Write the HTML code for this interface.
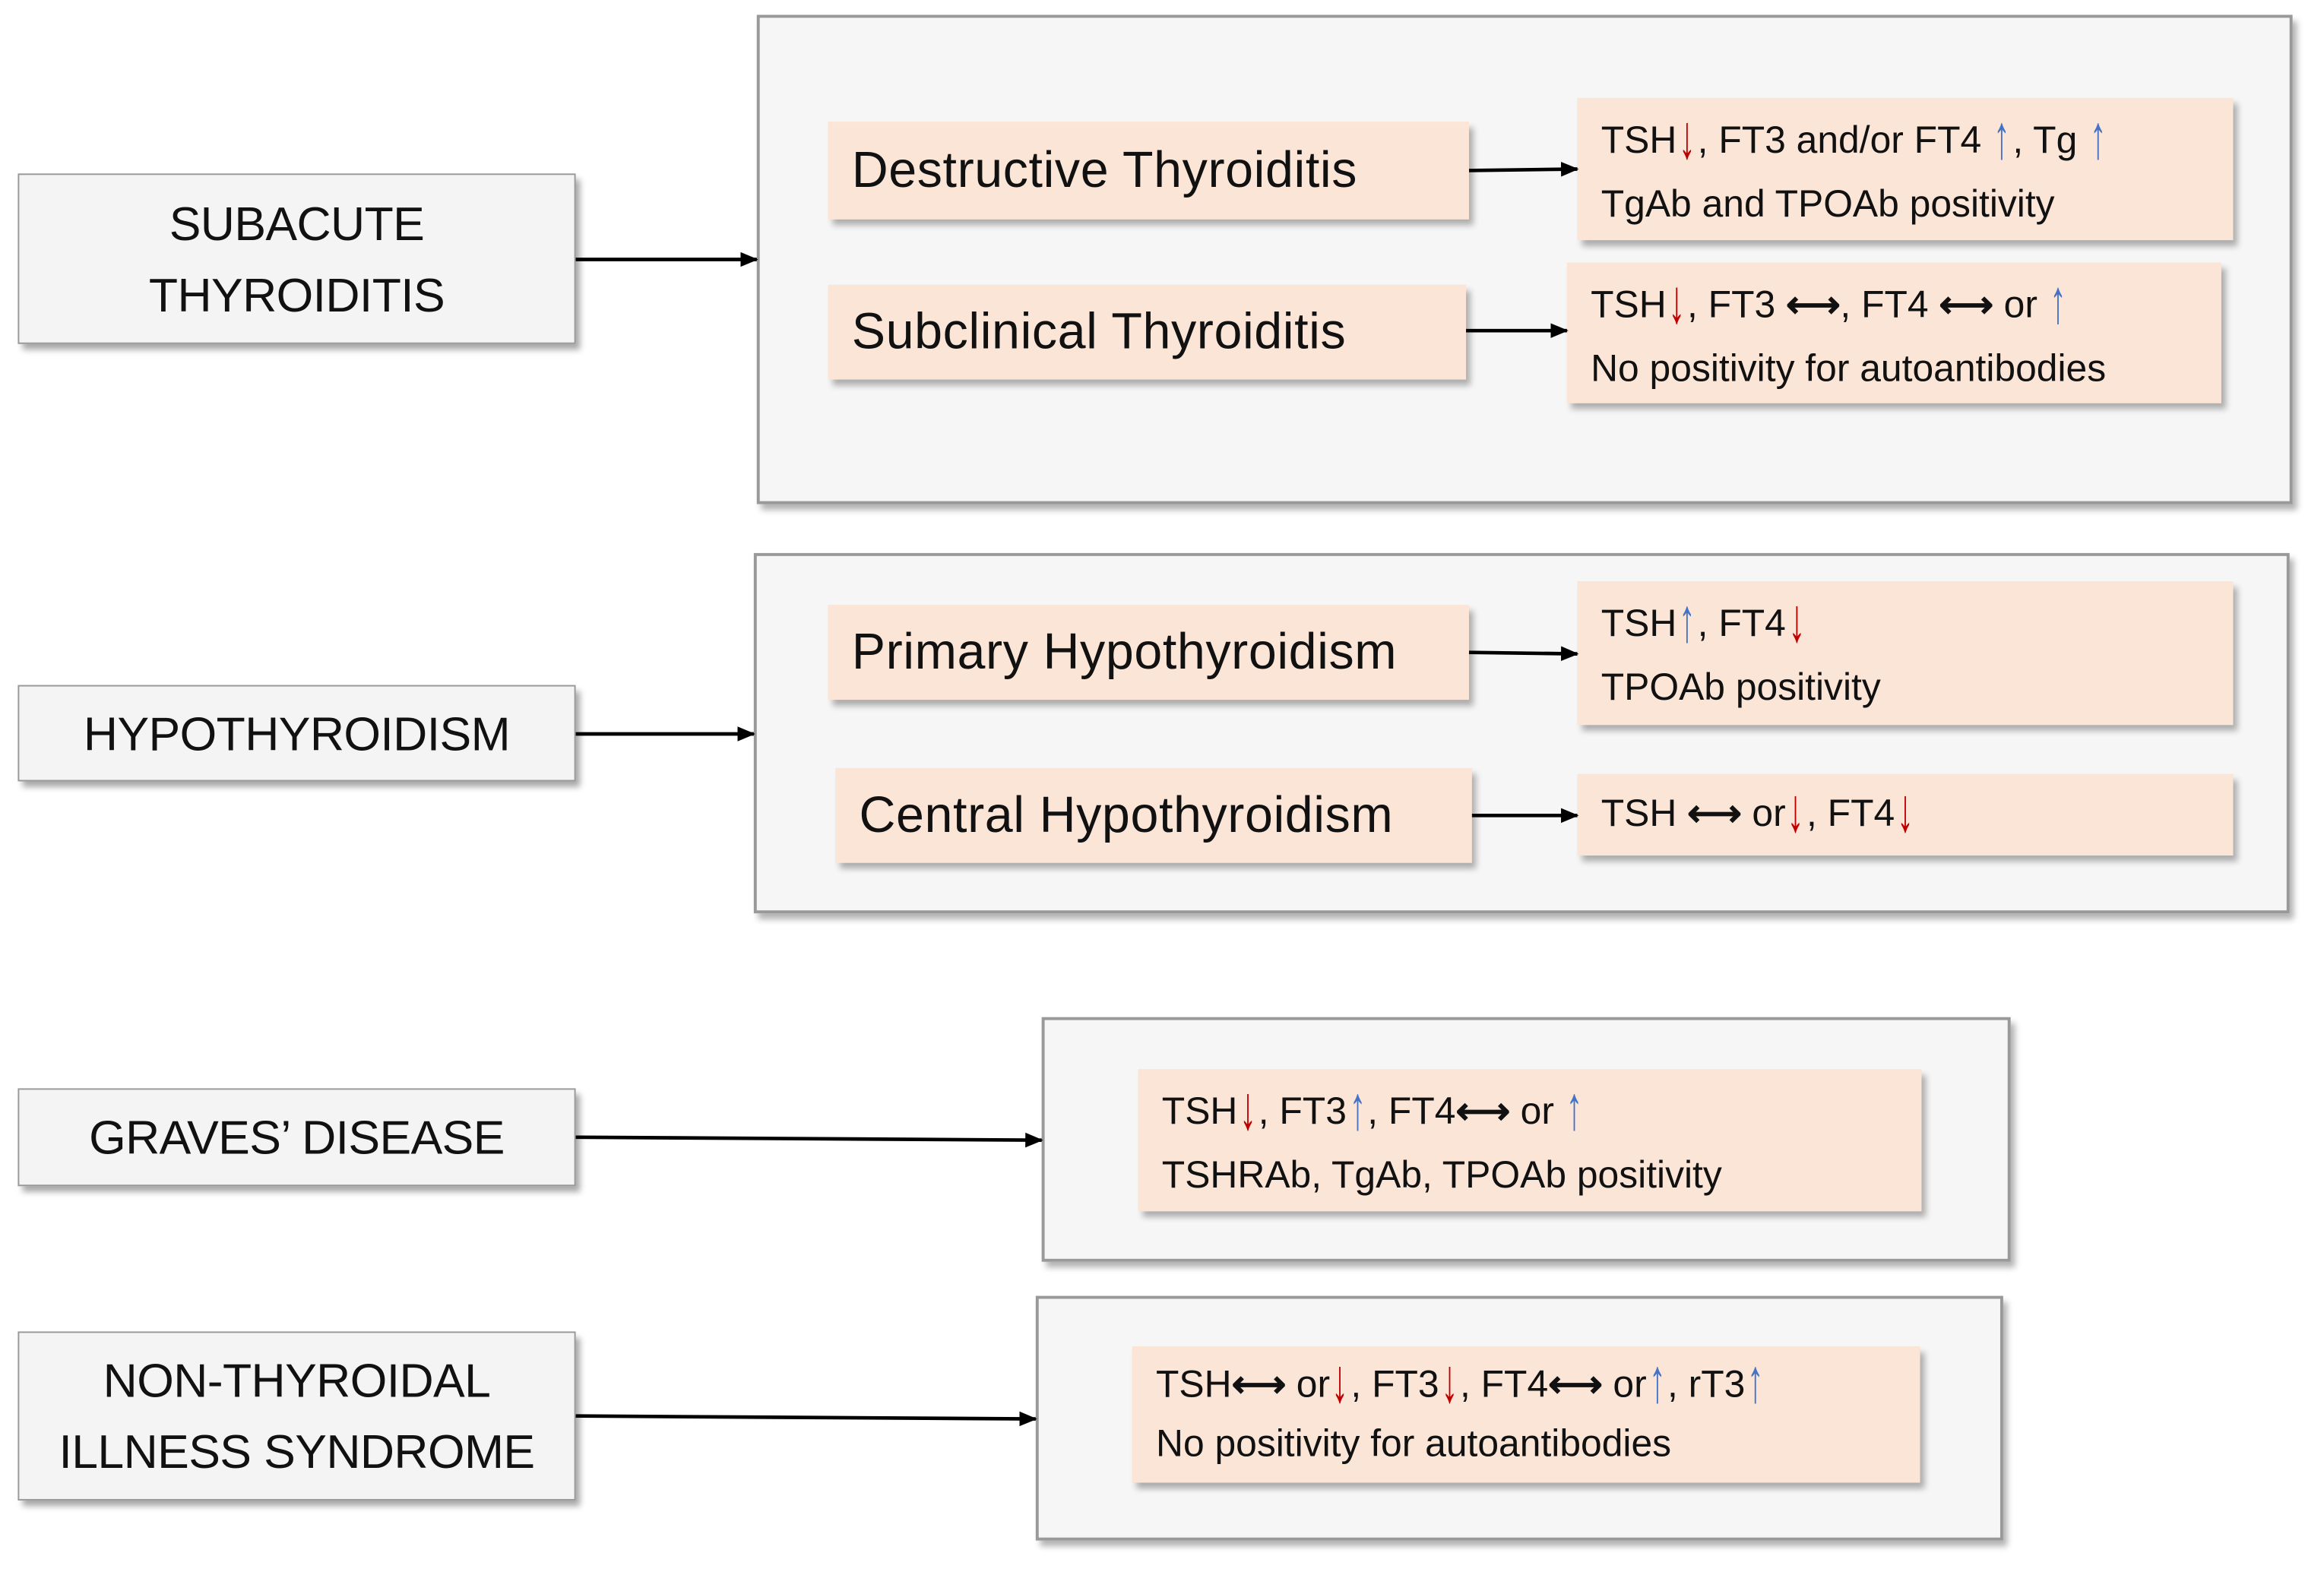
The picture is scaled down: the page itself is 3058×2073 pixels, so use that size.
<!DOCTYPE html>
<html><head><meta charset="utf-8"><style>
html,body{margin:0;padding:0;background:#fff;}
body{width:3058px;height:2073px;overflow:hidden;}
#w{position:absolute;left:0;top:0;width:1560px;height:1058px;transform-origin:0 0;transform:scale(1.9525,1.9515);font-family:"Liberation Sans",sans-serif;color:#111;}
.b{position:absolute;box-sizing:border-box;}
.l{background:#f4f4f4;border:1.5px solid #999;box-shadow:3px 4px 4px rgba(0,0,0,.35);display:flex;align-items:center;justify-content:center;text-align:center;font-size:32px;line-height:48px;letter-spacing:-0.3px;}
.g{background:#f6f6f6;border:2px solid #999;box-shadow:3px 4px 4px rgba(0,0,0,.3);}
.p{background:#fbe5d7;box-shadow:3px 4px 4px rgba(0,0,0,.3);}
.n{display:flex;align-items:center;padding-left:16px;font-size:34px;letter-spacing:0.3px;}
.r{padding:8px 0 0 16px;font-size:25.5px;line-height:43px;letter-spacing:0px;white-space:nowrap;}
.d,.u{display:inline-block;font-size:28px;font-weight:bold;transform:scale(0.8,1.5);transform-origin:50% 60%;line-height:20px;}
.d{color:#c00000;}
.u{color:#4472c4;}
.h{font-weight:bold;}
svg{position:absolute;left:0;top:0;}
</style></head><body><div id="w">
<div class="b l" style="left:12px;top:117px;width:376px;height:115px;">SUBACUTE<br>THYROIDITIS</div>
<div class="b l" style="left:12px;top:462px;width:376px;height:65px;">HYPOTHYROIDISM</div>
<div class="b l" style="left:12px;top:734px;width:376px;height:66px;">GRAVES’ DISEASE</div>
<div class="b l" style="left:12px;top:898px;width:376px;height:114px;">NON-THYROIDAL<br>ILLNESS SYNDROME</div>

<div class="b g" style="left:510px;top:10px;width:1035px;height:330px;"></div>
<div class="b g" style="left:508px;top:373px;width:1035px;height:243px;"></div>
<div class="b g" style="left:702px;top:686px;width:653px;height:165px;"></div>
<div class="b g" style="left:698px;top:874px;width:652px;height:165px;"></div>

<div class="b p n" style="left:558px;top:82px;width:432px;height:66px;">Destructive Thyroiditis</div>
<div class="b p n" style="left:558px;top:192px;width:430px;height:64px;">Subclinical Thyroiditis</div>
<div class="b p n" style="left:558px;top:408px;width:432px;height:64px;">Primary Hypothyroidism</div>
<div class="b p n" style="left:563px;top:518px;width:429px;height:64px;">Central Hypothyroidism</div>

<div class="b p r" style="left:1063px;top:66px;width:442px;height:96px;">TSH<span class="d">↓</span>, FT3 and/or FT4 <span class="u">↑</span>, Tg <span class="u">↑</span><br>TgAb and TPOAb positivity</div>
<div class="b p r" style="left:1056px;top:177px;width:441px;height:95px;">TSH<span class="d">↓</span>, FT3 <span class="h">⟷</span>, FT4 <span class="h">⟷</span> or <span class="u">↑</span><br>No positivity for autoantibodies</div>
<div class="b p r" style="left:1063px;top:392px;width:442px;height:97px;">TSH<span class="u">↑</span>, FT4<span class="d">↓</span><br>TPOAb positivity</div>
<div class="b p r" style="left:1063px;top:522px;width:442px;height:55px;padding-top:6px;">TSH <span class="h">⟷</span> or<span class="d">↓</span>, FT4<span class="d">↓</span></div>
<div class="b p r" style="left:767px;top:721px;width:528px;height:96px;">TSH<span class="d">↓</span>, FT3<span class="u">↑</span>, FT4<span class="h">⟷</span> or <span class="u">↑</span><br>TSHRAb, TgAb, TPOAb positivity</div>
<div class="b p r" style="left:763px;top:908px;width:531px;height:92px;padding-top:6px;line-height:40px;">TSH<span class="h">⟷</span> or<span class="d">↓</span>, FT3<span class="d">↓</span>, FT4<span class="h">⟷</span> or<span class="u">↑</span>, rT3<span class="u">↑</span><br>No positivity for autoantibodies</div>

<svg width="1560" height="1058" viewBox="0 0 1560 1058">
<defs><marker id="a" markerWidth="12" markerHeight="12" refX="11" refY="6" orient="auto" markerUnits="userSpaceOnUse"><path d="M0,1 L12,6 L0,11 Z" fill="#000"/></marker></defs>
<g stroke="#000" stroke-width="2.4" fill="none" marker-end="url(#a)">
<line x1="388" y1="175" x2="510" y2="175"/>
<line x1="388" y1="495" x2="508" y2="495"/>
<line x1="388" y1="767" x2="702" y2="769"/>
<line x1="388" y1="955" x2="698" y2="957"/>
<line x1="990" y1="115" x2="1063" y2="114"/>
<line x1="988" y1="223" x2="1056" y2="223"/>
<line x1="990" y1="440" x2="1063" y2="441"/>
<line x1="992" y1="550" x2="1063" y2="550"/>
</g></svg>
</div></body></html>
